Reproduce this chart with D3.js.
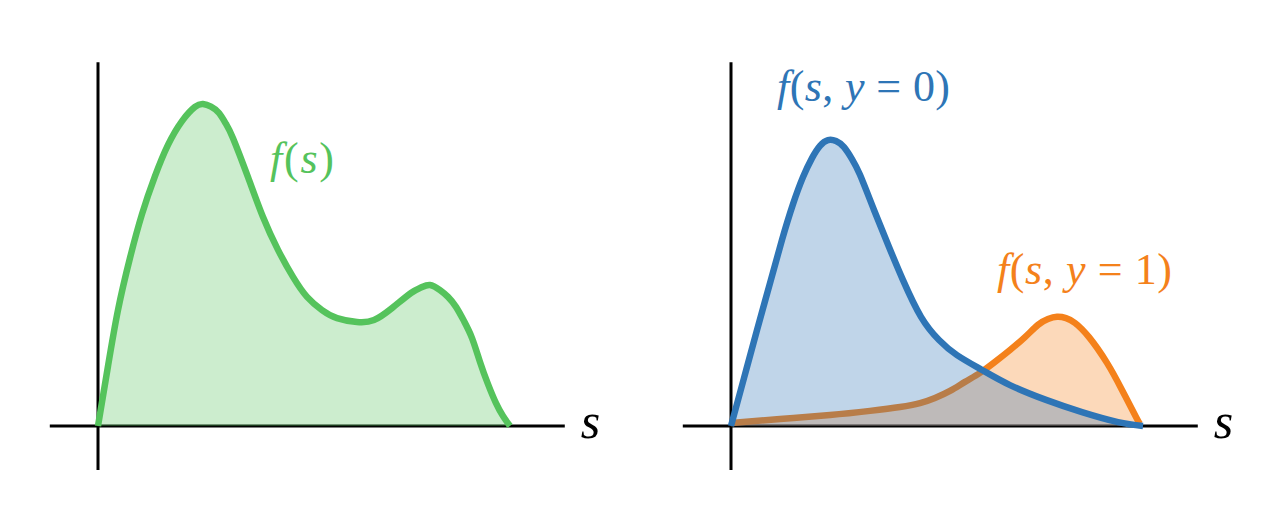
<!DOCTYPE html>
<meta charset="utf-8">

<!-- Load d3.js -->
<script src="https://d3js.org/d3.v7.min.js"></script>

<style>
  body { margin: 0; background: #fff; }
</style>

<!-- Div where the two panels go -->
<div id="dataviz_density"></div>

<script>

  // values (s along the axis, f height of the density)
  var sGreen = [0, 0.243, 0.485, 0.777, 1.068, 1.383, 1.699, 2.039, 2.354, 2.549, 2.743, 2.937, 3.107, 3.277, 3.641, 4.005, 4.369, 4.733, 5.073, 5.437, 5.801, 6.286, 6.699, 7.136, 7.597, 7.840, 8.058, 8.301, 8.495, 8.689, 8.883, 9.078, 9.272, 9.466, 9.660, 9.830, 10.0];
  var fGreen = [0, 0.186, 0.360, 0.522, 0.658, 0.776, 0.873, 0.947, 0.991, 1.0, 0.992, 0.972, 0.938, 0.894, 0.773, 0.649, 0.547, 0.463, 0.401, 0.360, 0.335, 0.323, 0.329, 0.366, 0.413, 0.430, 0.438, 0.422, 0.401, 0.370, 0.326, 0.273, 0.199, 0.130, 0.071, 0.031, 0.0];

  var sBlue = [0, 0.316, 0.631, 0.947, 1.238, 1.505, 1.748, 1.966, 2.160, 2.354, 2.549, 2.743, 2.937, 3.131, 3.471, 3.835, 4.175, 4.612, 5.049, 5.485, 6.092, 6.772, 7.646, 8.519, 9.393, 10.0];
  var fBlue = [0, 0.149, 0.298, 0.444, 0.578, 0.689, 0.773, 0.832, 0.870, 0.888, 0.885, 0.866, 0.829, 0.780, 0.671, 0.556, 0.453, 0.339, 0.267, 0.220, 0.174, 0.127, 0.081, 0.043, 0.012, 0.0];

  var sOrange = [0, 1.189, 2.403, 3.374, 4.102, 4.587, 4.951, 5.316, 5.680, 6.044, 6.408, 6.772, 7.136, 7.451, 7.694, 7.913, 8.131, 8.350, 8.689, 9.126, 9.490, 9.830, 9.927];
  var fOrange = [0.009, 0.022, 0.034, 0.047, 0.059, 0.071, 0.087, 0.109, 0.137, 0.165, 0.199, 0.236, 0.276, 0.314, 0.332, 0.339, 0.335, 0.320, 0.276, 0.196, 0.112, 0.028, 0.006];

  var labels = ["f(s)", "f(s, y = 0)", "f(s, y = 1)"];

  var width = 1275, height = 507;

  var SVG = d3.select("#dataviz_density")
    .append("svg")
    .attr("width", width)
    .attr("height", height)
    .style("display", "block");

  SVG.append("rect").attr("width", width).attr("height", height).attr("fill", "#fff");

  // same y scale for both panels
  var y = d3.scaleLinear()
    .domain([0, 1])
    .range([426, 104]);

  // each panel has its own x scale, only the origin moves
  var xLeft = d3.scaleLinear().domain([0, 10]).range([98, 510]);
  var xRight = d3.scaleLinear().domain([0, 10]).range([731, 1143]);

  var curve = d3.curveNatural;
  var fontFam = "'Liberation Serif', 'DejaVu Serif', serif";

  function zip(s, f) {
    return s.map(function (d, i) { return { s: d, f: f[i] }; });
  }

  function drawAxes(x) {
    var g = SVG.append("g");
    // x axis
    g.append("line")
      .attr("x1", x(-1.17)).attr("x2", x(11.33))
      .attr("y1", y(0)).attr("y2", y(0))
      .attr("stroke", "#000").attr("stroke-width", 3);
    // y axis
    g.append("line")
      .attr("x1", x(0)).attr("x2", x(0))
      .attr("y1", y(1.13)).attr("y2", y(-0.137))
      .attr("stroke", "#000").attr("stroke-width", 3);
    // axis name
    g.append("text")
      .attr("x", x(11.33) + 16)
      .attr("y", y(0) + 12)
      .style("font-family", fontFam)
      .style("font-style", "italic")
      .style("font-size", "50px")
      .attr("fill", "#000")
      .text("s");
  }

  function drawDensity(x, data, color) {
    var area = d3.area()
      .curve(curve)
      .x(function (d) { return x(d.s); })
      .y0(y(0))
      .y1(function (d) { return y(d.f); });
    var line = d3.line()
      .curve(curve)
      .x(function (d) { return x(d.s); })
      .y(function (d) { return y(d.f); });
    SVG.append("path")
      .datum(data)
      .attr("d", area)
      .attr("fill", color)
      .attr("fill-opacity", 0.3);
    SVG.append("path")
      .datum(data)
      .attr("d", line)
      .attr("fill", "none")
      .attr("stroke", color)
      .attr("stroke-width", 6.5);
  }

  // math-ish label: letters italic, symbols upright, stretched to the width seen
  function mathLabel(x0, y0, w, str, color) {
    var t = SVG.append("text")
      .attr("x", x0)
      .attr("y", y0)
      .attr("fill", color)
      .attr("textLength", w)
      .attr("lengthAdjust", "spacing")
      .style("font-family", fontFam)
      .style("font-size", "44px");
    str.split("").forEach(function (ch) {
      var italic = /[a-z]/.test(ch);
      t.append("tspan")
        .style("font-style", italic ? "italic" : "normal")
        .text(ch);
    });
  }

  // Left panel
  drawAxes(xLeft);
  drawDensity(xLeft, zip(sGreen, fGreen), "#55c35c");
  mathLabel(270, 173, 64, labels[0], "#55c35c");

  // Right panel: orange first, blue laid over it
  drawAxes(xRight);
  drawDensity(xRight, zip(sOrange, fOrange), "#f4811b");
  drawDensity(xRight, zip(sBlue, fBlue), "#2e75b6");
  mathLabel(777, 101, 173, labels[1], "#2e75b6");
  mathLabel(997, 284, 175, labels[2], "#f4811b");

</script>
